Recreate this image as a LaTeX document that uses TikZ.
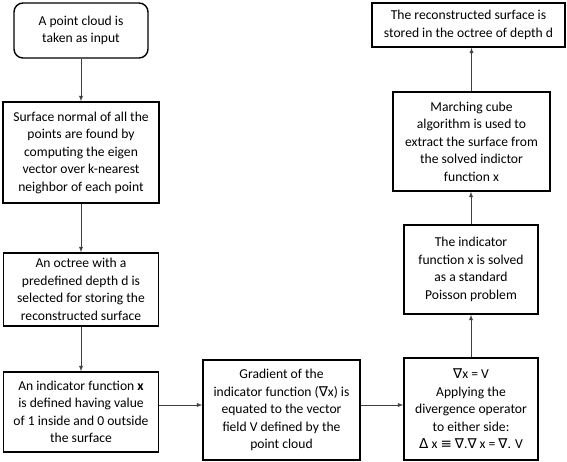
\documentclass[tikz,border=0pt]{standalone}
\usepackage{fontspec}
\setmainfont{Carlito}
\newfontfamily\symfont{DejaVu Sans}
\tikzstyle{stage}=[draw,line width=1.4pt,align=center,inner sep=2pt,font=\fontsize{13.6}{17.5}\selectfont]
\tikzstyle{start stage}=[stage,rounded corners=9pt]
\tikzstyle{edge}=[draw,line width=0.9pt,black!75,-latex]

\begin{document}
\begin{tikzpicture}[x=1pt,y=-1pt]
     \useasboundingbox (0,0) rectangle (567,462);
     % Left column, from the input down
     \node[start stage,minimum width=134pt,minimum height=55pt] (input) at (81,30.5)
       {A point cloud is\\taken as input};
     \node[stage,minimum width=156pt,minimum height=101pt] (normals) at (81,152.5)
       {Surface normal of all the\\points are found by\\computing the eigen\\vector over k-nearest\\neighbor of each point};
     \node[stage,minimum width=155pt,minimum height=73pt] (octree) at (81,289.5)
       {An octree with a\\predefined depth d is\\selected for storing the\\reconstructed surface};
     \node[stage,minimum width=155pt,minimum height=80pt] (indicator) at (81,412)
       {An indicator function \textbf{x}\\is defined having value\\of 1 inside and 0 outside\\the surface};
     % Bottom row
     \node[stage,minimum width=157pt,minimum height=100pt] (gradient) at (281.5,410)
       {Gradient of the\\indicator function ({\symfont\char"2207}x) is\\equated to the vector\\field V defined by the\\point cloud};
     \node[stage,minimum width=134pt,minimum height=102pt] (divergence) at (471,409)
       {{\symfont\char"2207}x = V\\Applying the\\divergence operator\\to either side:\\{\symfont\char"0394} x {\symfont\char"2261} {\symfont\char"2207}.{\symfont\char"2207} x = {\symfont\char"2207}. V};
     % Right column, from the bottom up
     \node[stage,minimum width=134pt,minimum height=89pt] (poisson) at (471,269.5)
       {The indicator\\function x is solved\\as a standard\\Poisson problem};
     \node[stage,minimum width=157pt,minimum height=99pt] (marching) at (471.5,141.5)
       {Marching cube\\algorithm is used to\\extract the surface from\\the solved indictor\\function x};
     \node[stage,minimum width=193pt,minimum height=44pt] (stored) at (468.5,25)
       {The reconstructed surface is\\stored in the octree of depth d};

     % Connect the stages
     \foreach \source/\dest in {input/normals, normals/octree, octree/indicator}
     \path[edge] (\source.south) -- (\source.south |- \dest.north);

     \foreach \source/\dest in {divergence/poisson, poisson/marching}
     \path[edge] (\source.north) -- (\source.north |- \dest.south);
     \path[edge] (marching.north) -- (marching.north |- stored.south);

     \foreach \source/\dest in {indicator/gradient, gradient/divergence}
     \path[edge] ([yshift=7pt]indicator.east -| \source.east) -- ([yshift=7pt]indicator.east -| \dest.west);
\end{tikzpicture}
\end{document}
